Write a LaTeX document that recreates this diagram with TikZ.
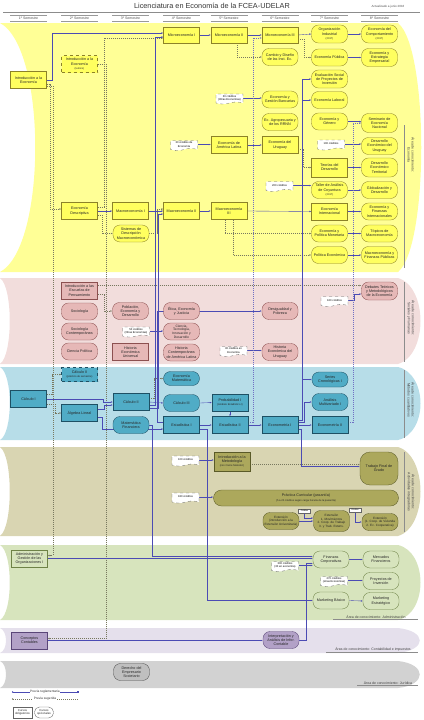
\documentclass[tikz,border=0pt]{standalone}
\usepackage{fontspec}
\setmainfont{Liberation Sans}
\usetikzlibrary{shapes.symbols,arrows.meta}
\pgfdeclarelayer{bandl}
\pgfdeclarelayer{linel}
\pgfsetlayers{bandl,linel,main}
\definecolor{yband}{RGB}{255,255,150}
\definecolor{ynode}{RGB}{255,255,95}
\definecolor{ybord}{RGB}{140,130,40}
\definecolor{pband}{RGB}{242,221,220}
\definecolor{pnode}{RGB}{230,184,183}
\definecolor{pbord}{RGB}{140,80,80}
\definecolor{bband}{RGB}{183,221,232}
\definecolor{bnode}{RGB}{80,172,198}
\definecolor{bbord}{RGB}{30,80,100}
\definecolor{tband}{RGB}{217,213,178}
\definecolor{tnode}{RGB}{172,168,92}
\definecolor{tbord}{RGB}{90,90,40}
\definecolor{gband}{RGB}{215,228,189}
\definecolor{gnode}{RGB}{215,228,189}
\definecolor{gbord}{RGB}{110,130,70}
\definecolor{lband}{RGB}{229,224,236}
\definecolor{lnode}{RGB}{178,161,199}
\definecolor{lbord}{RGB}{90,70,120}
\definecolor{kband}{RGB}{210,210,210}
\definecolor{knode}{RGB}{191,191,191}
\definecolor{kbord}{RGB}{80,80,80}
\definecolor{wnode}{RGB}{255,255,255}
\definecolor{wbord}{RGB}{100,100,100}
\definecolor{reqc}{RGB}{75,75,180}
\definecolor{sugc}{RGB}{120,120,95}
\tikzset{
  nd/.style={align=center, font=\fontsize{3.7}{4.2}\selectfont, inner sep=0.6pt,
    minimum width=36pt, minimum height=17pt, line width=0.35pt, text=black!85},
  ob/.style={nd, rectangle, draw=#1bord, fill=#1node},
  op/.style={nd, rectangle, rounded corners=7pt, draw=#1bord, fill=#1node},
  note/.style={tape, tape bend top=none, tape bend height=2pt, draw=black!60, dashed,
    fill=white, font=\fontsize{2.7}{3.1}\selectfont, align=center, inner sep=0.5pt,
    minimum width=27pt, minimum height=10pt, line width=0.3pt},
  req/.style={reqc, line width=0.35pt, -{Latex[length=2pt,width=1.6pt]}},
  sug/.style={sugc, line width=0.35pt, dash pattern=on 1.2pt off 0.8pt, -{Latex[length=2pt,width=1.6pt]}},
  sugb/.style={sug, reqc!80},
  hdr/.style={font=\fontsize{3.5}{4}\selectfont, text=black!70},
  area/.style={font=\fontsize{3.5}{4}\selectfont, text=black!75, align=center},
  smallbox/.style={draw=black!60, fill=white, font=\fontsize{2}{2.4}\selectfont, inner sep=0.4pt,
    minimum width=12pt, minimum height=4pt, line width=0.3pt},
}
\begin{document}
\begin{tikzpicture}[x=1pt,y=-1pt]
\useasboundingbox (0,0) rectangle (423,720);

% ---------- bands ----------
\begin{pgfonlayer}{bandl}
\fill[yband] (0,23) -- (398,23) .. controls (429,48) and (429,247) .. (398,272) -- (0,272) .. controls (47,247) and (47,48) .. (0,23) -- cycle;
\fill[pband] (0,278) -- (398,278) .. controls (428,287) and (428,355) .. (398,364) -- (0,364) .. controls (13,355) and (13,287) .. (0,278) -- cycle;
\fill[bband] (0,367) -- (398,367) .. controls (428,374) and (428,433) .. (398,440) -- (0,440) .. controls (13,433) and (13,374) .. (0,367) -- cycle;
\fill[tband] (0,447) -- (398,447) .. controls (428,456) and (428,527) .. (398,536) -- (0,536) .. controls (13,527) and (13,456) .. (0,447) -- cycle;
\fill[gband] (0,545) -- (398,545) .. controls (428,552) and (428,613) .. (398,620) -- (0,620) .. controls (13,613) and (13,552) .. (0,545) -- cycle;
\fill[lband] (0,628) -- (398,628) .. controls (427,631) and (427,650) .. (398,653) -- (0,653) .. controls (8,650) and (8,631) .. (0,628) -- cycle;
\fill[kband] (0,661) -- (398,661) .. controls (427,664) and (427,685) .. (398,688) -- (0,688) .. controls (8,685) and (8,664) .. (0,661) -- cycle;
\end{pgfonlayer}

% ---------- title and headers ----------
\node[font=\fontsize{7.3}{8}\selectfont, text=black!80] (title) at (212,6) {Licenciatura en Economía de la FCEA-UDELAR};
\node[font=\fontsize{3}{3.5}\selectfont, text=black!70] (upd) at (388,6.5) {Actualizado a junio 2016};
\draw[black!45, line width=0.4pt] (3,12) -- (420,12);
\foreach \sx/\sn in {28.5/1,79.5/2,130.5/3,181.5/4,229/5,280/6,329.5/7,379.5/8}{
  \draw[black!40, line width=0.3pt] ({\sx-18.5},15) -- ({\sx+18.5},15);
  \draw[black!40, line width=0.3pt] ({\sx-18.5},21.5) -- ({\sx+18.5},21.5);
  \node[hdr] (s\sn) at (\sx,18.3) {\sn{}º Semestre};
}

% ---------- yellow: economia ----------
\node[ob=y] (intro) at (28.5,80) {Introducción a la\\Economía};
\node[ob=y,dashed] (introt) at (79.5,64) {Introducción a la\\Economía\\{\fontsize{2.6}{3}\selectfont (teórico)}};
\node[ob=y] (desc) at (79.5,211) {Economía\\Descriptiva};
\node[ob=y] (macro1) at (130.5,211) {Macroeconomía I};
\node[op=y] (sdm) at (131,233.5) {Sistemas de\\Descripción\\Macroeconómica};
\node[ob=y,minimum height=16pt] (micro1) at (181.5,35) {Microeconomía I};
\node[ob=y] (macro2) at (181.5,211) {Macroeconomía II};
\node[note] (n30a) at (184,144.5) {30 créditos de\\Economía};
\node[ob=y,minimum height=16pt] (micro2) at (229,35) {Microeconomía II};
\node[ob=y] (eal) at (229,145) {Economía de\\América Latina};
\node[ob=y] (macro3) at (229,211) {Macroeconomía\\III};
\node[ob=y,minimum height=16pt] (micro3) at (280,35) {Microeconomía III};
\node[op=y] (cambio) at (280,57) {Cambio y Diseño\\de las Inst. Ec.};
\node[note] (n30b) at (229.5,98) {30 créditos\\(Otras Economías)};
\node[op=y] (bancaria) at (280,99.5) {Economía y\\Gestión Bancarias};
\node[op=y] (agro) at (280,122) {Ec. Agropecuaria y\\de los RRNN};
\node[ob=y] (uru) at (280,145) {Economía del\\Uruguay};
\node[note] (n200) at (279.5,185.5) {200 créditos};
\node[op=y,minimum height=18pt] (orgind) at (329.5,34) {Organización\\Industrial\\{\fontsize{2.6}{3}\selectfont (2017)}};
\node[op=y] (epub) at (329.5,57.5) {Economía Pública};
\node[op=y,minimum height=18pt] (evsoc) at (329.5,79) {Evaluación Social\\de Proyectos de\\Inversión};
\node[op=y] (laboral) at (329.5,100) {Economía Laboral};
\node[op=y] (genero) at (329.5,121.5) {Economía y\\Género};
\node[note] (n100a) at (331,144) {100 créditos};
\node[ob=y,minimum height=19pt] (teorias) at (329.5,167.5) {Teorías del\\Desarrollo};
\node[op=y] (taller) at (329.5,190) {Taller de Análisis\\de Coyuntura\\{\fontsize{2.6}{3}\selectfont (2017)}};
\node[ob=y] (eint) at (329.5,211.5) {Economía\\Internacional};
\node[op=y] (epm) at (329.5,233.5) {Economía y\\Política Monetaria};
\node[op=y] (pol) at (329.5,255) {Política Económica};
\node[op=y,minimum height=18pt] (comport) at (379.5,34) {Economía del\\Comportamiento\\{\fontsize{2.6}{3}\selectfont (2017)}};
\node[op=y,minimum height=18pt] (estrat) at (379.5,57.5) {Economía y\\Estrategia\\Empresarial};
\node[op=y,minimum height=19pt] (seminario) at (379.5,123) {Seminario de\\Economía\\Nacional};
\node[op=y] (deu) at (379.5,146) {Desarrollo\\Económico del\\Uruguay};
\node[op=y,minimum height=19pt] (det) at (379.5,167.5) {Desarrollo\\Económico\\Territorial};
\node[op=y] (glob) at (379.5,190) {Globalización y\\Desarrollo};
\node[op=y] (efi) at (379.5,211.5) {Economía y\\Finanzas\\Internacionales};
\node[op=y] (topicos) at (379.5,233.5) {Tópicos de\\Macroeconomía};
\node[op=y] (mfp) at (379.5,255) {Macroeconomía y\\Finanzas Públicas};

% ---------- pink: sociales ----------
\node[ob=p] (escuelas) at (79.5,290.5) {Introducción a las\\Escuelas de\\Pensamiento};
\node[op=p] (socio) at (79.5,311.5) {Sociología};
\node[op=p] (socioc) at (79.5,331.5) {Sociología\\Contemporánea};
\node[op=p] (cpol) at (79.5,351.5) {Ciencia Política};
\node[op=p] (pobl) at (130.5,311) {Población,\\Economía y\\Desarrollo};
\node[note] (n50) at (136,331) {50 créditos\\(Otras Economías)};
\node[ob=p] (heu) at (130.5,352) {Historia\\Económica\\Universal};
\node[op=p] (etica) at (181.5,311) {Ética, Economía\\y Justicia};
\node[op=p,font=\fontsize{3.3}{3.7}\selectfont] (ctid) at (181.5,331.5) {Ciencia,\\Tecnología,\\Innovación y\\Desarrollo};
\node[op=p] (hcal) at (181.5,352.5) {Historia\\Contemporánea\\de América Latina};
\node[op=p] (desig) at (280,311) {Desigualdad y\\Pobreza};
\node[note] (n30c) at (233.5,350.5) {30 créditos en\\Economía};
\node[op=p] (heuy) at (280,352) {Historia\\Económica del\\Uruguay};
\node[note] (n160) at (334.5,300.5) {160 créditos};
\node[op=p,minimum height=18pt] (debates) at (379.5,291) {Debates Teóricos\\y Metodológicos\\de la Economía};

% ---------- blue: metodos cuantitativos ----------
\node[ob=b,dashed,minimum height=14pt] (calc2p) at (79.5,374.5) {Cálculo II\\{\fontsize{2.6}{3}\selectfont (práctico de semestre)}};
\node[ob=b] (calc1) at (28.5,399) {Cálculo I};
\node[ob=b] (alg) at (79.5,413) {Álgebra Lineal};
\node[ob=b] (calc2) at (131,402) {Cálculo II};
\node[op=b] (matfin) at (131,425) {Matemática\\Financiera};
\node[op=b,minimum height=14pt] (emat) at (181.5,378.5) {Economía\\Matemática};
\node[op=b] (calc3) at (181.5,403) {Cálculo III};
\node[ob=b] (est1) at (181.5,425) {Estadística I};
\node[ob=b] (prob1) at (230,402.5) {Probabilidad I\\{\fontsize{2.6}{3}\selectfont (Análisis Estadístico I)}};
\node[ob=b] (est2) at (230,425) {Estadística II};
\node[ob=b] (eco1) at (280,425) {Econometría I};
\node[ob=b] (eco2) at (330,425) {Econometría II};
\node[op=b,minimum height=15pt] (series) at (330,379.5) {Series\\Cronológicas I};
\node[op=b] (amult) at (330,402) {Análisis\\Multivariado I};

% ---------- tan: actividades integradoras ----------
\node[note] (n100b) at (185.5,460) {100 créditos};
\node[ob=t,minimum height=19pt] (imet) at (232,461.5) {Introducción a la\\Metodología\\{\fontsize{2.6}{3}\selectfont (con Cierre Metodol.)}};
\node[op=t,minimum height=33pt,minimum width=38pt,rounded corners=10pt] (tfg) at (379,468.5) {Trabajo Final de\\Grado};
\node[note] (n180) at (185.5,497) {180 créditos};
\node[op=t,minimum width=185pt,minimum height=16pt,rounded corners=8pt] (prac) at (306,498) {Práctica Curricular (pasantía)\\{\fontsize{2.6}{3}\selectfont (5 a 20 créditos según carga horaria de la pasantía)}};
\node[op=t,font=\fontsize{3.1}{3.6}\selectfont] (ext1) at (281,521) {Extensión\\(introducción a la\\Extensión Universitaria)};
\node[op=t,font=\fontsize{3.1}{3.6}\selectfont,minimum height=21pt] (ext2) at (331.5,521) {Extensión\\1. Movimientos\\2. Coop. de Trabajo\\3. y Trab. Extens.};
\node[op=t,font=\fontsize{3.1}{3.6}\selectfont] (ext3) at (380,522) {Extensión\\(1. Coop. de Vivienda\\2. Ec. Cooperativa)};
\node[smallbox] (sx1) at (304.5,511) {Créditos};
\node[smallbox] (sx2) at (355,510) {Créditos};

% ---------- green: administracion ----------
\node[ob=g] (adm) at (29.5,558.5) {Administración y\\Gestión de las\\Organizaciones I};
\node[op=g] (fincorp) at (331,559.5) {Finanzas\\Corporativas};
\node[op=g] (mfin) at (381,559.5) {Mercados\\Financieros};
\node[note] (n300) at (285,565.5) {300 créditos\\(30 en economía)};
\node[note] (n270) at (334,580.5) {270 créditos\\(otras Economías)};
\node[op=g] (pinv) at (381,581) {Proyectos de\\Inversión};
\node[op=g] (mkt) at (331,600.5) {Marketing Básico};
\node[op=g] (mkte) at (381,601) {Marketing\\Estratégico};

% ---------- lavender and gray ----------
\node[ob=l] (cc) at (29.5,640.5) {Conceptos\\Contables};
\node[op=l] (iaic) at (281,640) {Interpretación y\\Análisis de Infor.\\Contable};
\node[op=k] (der) at (131.5,672) {Derecho del\\Empresario\\Societario};

% ---------- area labels ----------
\node[area,rotate=-90] (ay) at (411,155) {Área de conocimiento:\\Economía};
\draw[black!45, line width=0.3pt] (404,125) -- (404,268);
\node[area,rotate=-90] (ap) at (411,318) {Área de conocimiento:\\Sociales y Humanas};
\draw[black!45, line width=0.3pt] (404,282) -- (404,362);
\node[area,rotate=-90] (ab) at (411,400) {Área de conocimiento:\\Métodos cuantitativos};
\draw[black!45, line width=0.3pt] (404,370) -- (404,438);
\node[area,rotate=-90] (at) at (411,492) {Área de conocimiento:\\Actividades integradoras};
\draw[black!45, line width=0.3pt] (404,452) -- (404,532);
\node[area] (ag) at (376,616.5) {Área de conocimiento: Administración};
\draw[black!45, line width=0.3pt] (333,619.5) -- (418,619.5);
\node[area] (al) at (373,649.5) {Área de conocimiento: Contabilidad e impuestos};
\draw[black!45, line width=0.3pt] (326,652.5) -- (418,652.5);
\node[area] (ak) at (388,682.5) {Área de conocimiento: Jurídica};
\draw[black!45, line width=0.3pt] (357,685.5) -- (418,685.5);

% ---------- legend ----------
\coordinate (lg1) at (12,692);
\coordinate (lg2) at (78,692);
\coordinate (lg3) at (12,699);
\coordinate (lg4) at (78,699);
\draw[reqc, line width=0.35pt, {Circle[length=1.4pt]}-{Square[length=1.4pt]}] (lg1) -- (lg2)
  node[midway, fill=white, inner sep=0.6pt, font=\fontsize{3.2}{3.6}\selectfont, text=black!80] (lgt1) {Previa reglamentaria};
\draw[sugc, line width=0.35pt, dash pattern=on 1.2pt off 0.8pt, {Circle[length=1.2pt]}-] (lg3) -- (lg4)
  node[midway, fill=white, inner sep=0.6pt, font=\fontsize{3.2}{3.6}\selectfont, text=black!80] (lgt2) {Previa sugerida};
\node[ob=w, minimum width=19pt, minimum height=11pt, font=\fontsize{2.9}{3.3}\selectfont] (lob) at (22.5,712.5) {Cursos\\obligatorios};
\node[op=w, rounded corners=5pt, minimum width=19pt, minimum height=11pt, font=\fontsize{2.9}{3.3}\selectfont] (lop) at (44,712.5) {Cursos\\opcionales};

% ---------- connectors ----------
\begin{pgfonlayer}{linel}
% yellow
\draw[req] (intro.east) -- ++(5,0) |- ([yshift=2pt]micro1.west);
\draw[sug] ([yshift=-4pt]intro.east) -- ++(3,0) |- ([yshift=2pt]desc.west);
\draw[sug] ([yshift=-6pt]intro.east) -- ++(6,0) |- ([yshift=3pt]adm.east);
\draw[sug] (introt.east) -- ++(8.5,0) |- ([yshift=2pt]cc.east);
\draw[req] (desc.east) -- (macro1.west);
\draw[sug] ([yshift=-4pt]desc.east) -- ++(4,0) |- (sdm.west);
\draw[sug] ([yshift=4pt]desc.east) -- ++(6,0) |- ([yshift=-3pt]micro1.west);
\draw[sug] (sdm.east) -- ++(8,0) |- ([yshift=2pt]macro2.west);
\draw[req] (macro1.east) -- (macro2.west);
\draw[req] (macro2.east) -- (macro3.west);
\draw[req] (macro3.east) -- (eint.west);
\draw[sug] ([xshift=-4pt]macro3.south) |- (epm.west);
\draw[sug] ([xshift=4pt]macro3.south) |- (pol.west);
\draw[req] (micro1.east) -- (micro2.west);
\draw[req] (micro2.east) -- (micro3.west);
\draw[req] (micro3.east) -- (orgind.west);
\draw[req] (orgind.east) -- (comport.west);
\draw[sug] ([xshift=8pt]micro2.south) |- (cambio.west);
\draw[sug] ([yshift=-4pt]micro3.east) -- ++(6,0) |- (epub.west);
\draw[req] (epub.east) -- (estrat.west);
\draw[req] (n30a.east) -- (n30a.east -| eal.west);
\draw[req] (n30b.east) -- (n30b.east -| bancaria.west);
\draw[req] (eal.east) -- (uru.west);
\draw[sug] ([yshift=-4pt]uru.east) -- ++(5,0) |- (teorias.west);
\draw[req] (n100a.east) -- (n100a.east -| deu.west);
\draw[req] (teorias.east) -- (det.west);
\draw[req] (taller.east) -- (glob.west);
\draw[req] (n200.east) -- (n200.east -| taller.west);
\draw[req] (eint.east) -- (efi.west);
\draw[req] (epm.east) -- (topicos.west);
\draw[req] (pol.east) -- (mfp.west);
\draw[req] (genero.east) -- (genero.east -| seminario.west);
% pink
\draw[sug] ([yshift=5pt]escuelas.east) -- ([yshift=5pt]escuelas.east -| debates.west);
\draw[sug] ([yshift=-4pt]escuelas.east) -- ++(6,0) |- (pobl.west);
\draw[req] (n50.east) -- (n50.east -| ctid.west);
\draw[req] (n30c.east) -- (n30c.east -| heuy.west);
\draw[req] (n160.east) -- ++(6,0) |- ([yshift=-3pt]debates.west);
\draw[req] ([yshift=3pt]est1.west) -- ++(-6,0) |- (desig.west);
% blue
\draw[req] (calc1.east) -- ++(56,0) |- (calc2.west);
\draw[sug] ([yshift=5pt]calc1.east) -- ++(5,0) |- (calc2p.west);
\draw[sug] ([yshift=-5pt]calc1.east) -- ++(8,0) |- (alg.west);
\draw[req] ([yshift=4pt]alg.east) -- ++(6,0) |- ([yshift=-3pt]calc2.west);
\draw[req] ([yshift=-4pt]alg.east) -- ++(4,0) |- ([yshift=-4pt]est1.west);
\draw[req] (calc2.east) -- (calc3.west);
\draw[sug] ([yshift=4pt]calc2.east) -- ++(5,0) |- (emat.west);
\draw[req] ([yshift=-3pt]calc2.east) -- (155,405) |- ([yshift=-2pt]micro1.west);
\draw[req] ([yshift=-6pt]calc2.east) -- (158,408) |- ([yshift=-3pt]macro2.west);
\draw[req] (matfin.east) -- (152,425) |- ([yshift=3pt]fincorp.west);
\draw[req] ([yshift=-4pt]est1.east) -- (207,429) |- (mkt.west);
\draw[req] (est1.east) -- (est2.west);
\draw[req] (calc3.east) -- (prob1.west);
\draw[req] (prob1.south) -- (est2.north);
\draw[req] (est2.east) -- (eco1.west);
\draw[req] (eco1.east) -- (eco2.west);
\draw[req] ([yshift=3pt]eco1.east) -- ++(6,0) |- (amult.west);
\draw[req] ([yshift=5pt]eco1.east) -- ++(4,0) |- (series.west);
\draw[req] ([yshift=5pt]eco1.east) -- ++(4,0) |- (laboral.west);
\draw[req] ([yshift=5pt]eco1.east) -- ++(4,0) |- (evsoc.west);
\draw[req] ([yshift=-4pt]eco1.east) -- ++(3,0) |- ([yshift=2pt]tfg.west);
\draw[sugb] ([yshift=3pt]eco2.east) -- ++(5,0) |- (seminario.west);
\draw[sugb] ([yshift=3pt]est2.east) -- ++(5,0) |- ([yshift=-3pt]micro3.west);
% tan
\draw[req] (n100b.east) -- (n100b.east -| imet.west);
\draw[sug] ([yshift=-3pt]imet.east) -- ([yshift=-3pt]imet.east -| tfg.west);
\draw[req] (n180.east) -- (n180.east -| prac.west);
\draw[req] (ext1.east) -- (ext2.west);
\draw[req] (sx1.south) |- ([yshift=3pt]ext2.west);
\draw[req] (sx2.south) |- (ext3.west);
% green, lavender
\draw[req] (adm.east) -- (adm.east -| fincorp.west);
\draw[req] (n300.east) -- (n300.east -| fincorp.west);
\draw[req] (fincorp.east) -- (mfin.west);
\draw[req] (n270.east) -- (n270.east -| pinv.west);
\draw[req] (mkt.east) -- (mkte.west);
\draw[req] (iaic.east) -- ++(7,0) |- ([yshift=-4pt]fincorp.west);
\draw[req] (cc.east) -- (cc.east -| iaic.west);
\end{pgfonlayer}
\end{tikzpicture}
\end{document}
